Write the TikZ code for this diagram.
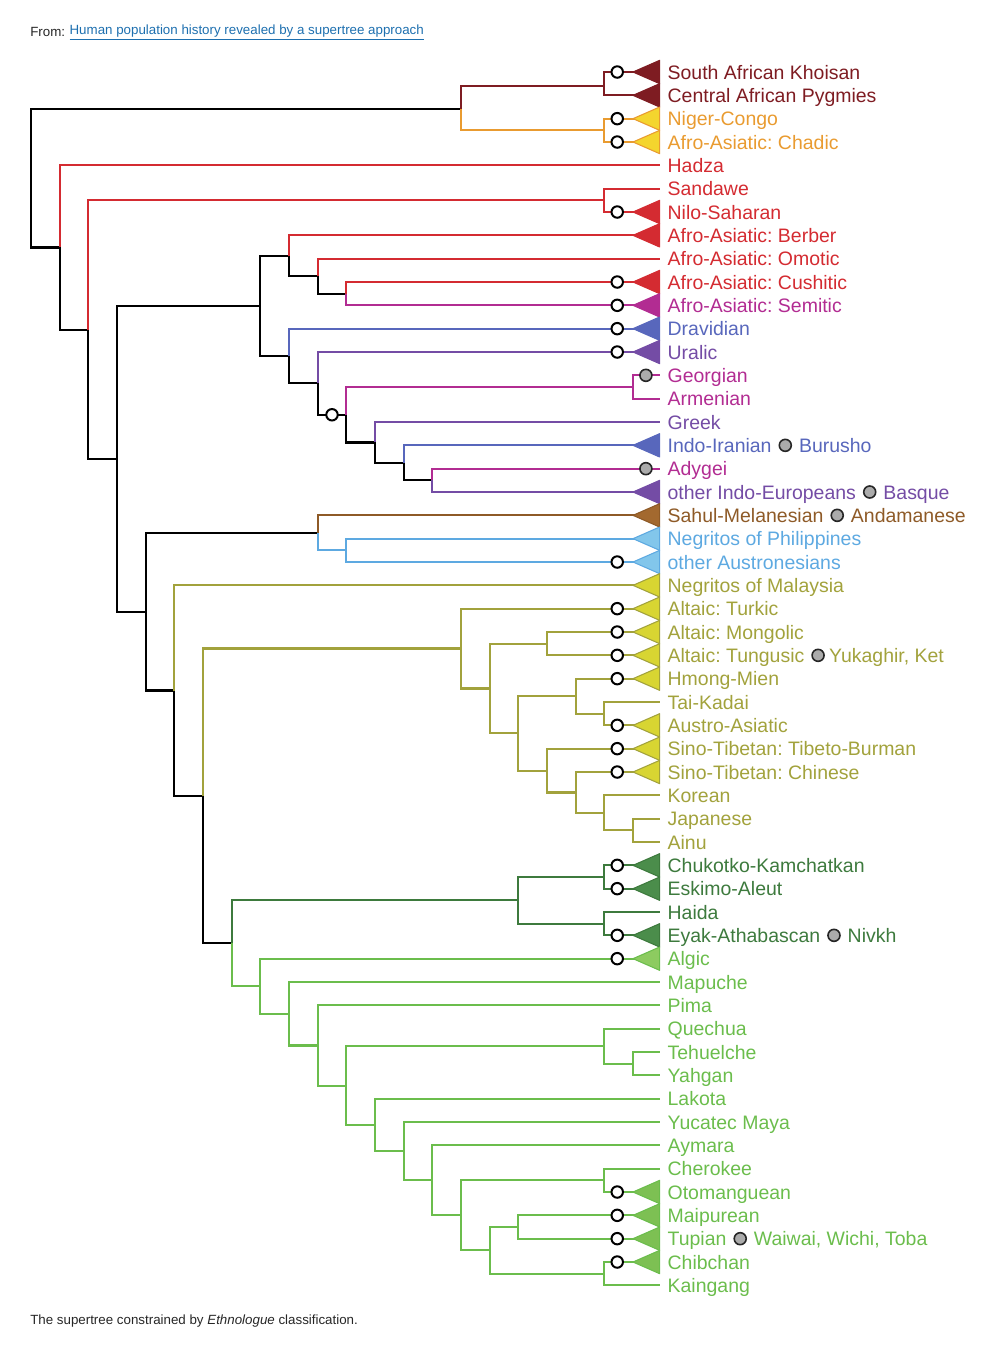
\documentclass[tikz,border=0pt]{standalone}
\usepackage{fontspec}
\setmainfont{Liberation Sans}
\usetikzlibrary{positioning}
\frenchspacing

\definecolor{cdarkred}{HTML}{7E1C22}
\definecolor{corange}{HTML}{E99B30}
\definecolor{cyellow}{HTML}{F4D52E}
\definecolor{cred}{HTML}{D42B31}
\definecolor{cmagenta}{HTML}{B22C92}
\definecolor{cblue}{HTML}{5867BC}
\definecolor{cpurple}{HTML}{744CA5}
\definecolor{cbrown}{HTML}{8E5A27}
\definecolor{cbrownfill}{HTML}{A3692F}
\definecolor{csky}{HTML}{5DA9E1}
\definecolor{cskyfill}{HTML}{82C6EB}
\definecolor{colive}{HTML}{A2A23C}
\definecolor{colivefill}{HTML}{D8D532}
\definecolor{cdkgreen}{HTML}{3D7A3D}
\definecolor{cdkgreenfill}{HTML}{4B8D4B}
\definecolor{cltgreen}{HTML}{6BBD4C}
\definecolor{cltgreenfill}{HTML}{7DC053}
\definecolor{calgicfill}{HTML}{8DCB60}
\definecolor{clink}{HTML}{1D6FAF}

\begin{document}
\begin{tikzpicture}[%
      x=21.5pt, y=-17.5pt,
      br/.style={line width=1.65pt},
      leaf/.style={anchor=west, inner sep=0pt, text height=10.5pt, text depth=0pt,
        font=\fontsize{14.6}{17}\selectfont},
      opendot/.style={circle, draw=black, line width=1.5pt, fill=white,
        inner sep=0pt, minimum size=8.6pt},
      greydot/.style={circle, draw=black!85, line width=1.2pt, fill=black!33,
        inner sep=0pt, minimum size=9pt},
      clade/.style={line width=0.8pt, line join=round},
      note/.style={anchor=west, inner sep=0pt, font=\fontsize{10}{12}\selectfont},
      ]
      \useasboundingbox (-23.25pt,54pt) rectangle (717.75pt,-956.25pt);

      % leaf ends
      \foreach \i in {0,...,52}
        \coordinate (l\i) at (21.95,\i);

      % inner nodes (column, row)
      \coordinate (nR) at (0,4.51);
      \coordinate (nA) at (15,1.6);
      \coordinate (nK) at (20,0.6);
      \coordinate (nN) at (20,2.5);
      \coordinate (nB) at (1,7.52);
      \coordinate (nC) at (2,11.04);
      \coordinate (nS) at (20,5.5);
      \coordinate (nD) at (3,16.58);
      \coordinate (nE) at (8,10.02);
      \coordinate (nG) at (9,7.875);
      \coordinate (nG2) at (10,8.75);
      \coordinate (nG3) at (11,9.5);
      \coordinate (nH) at (9,12.17);
      \coordinate (nH2) at (10,13.34);
      \coordinate (nH3) at (11,14.69);
      \coordinate (nGA) at (21,13.5);
      \coordinate (nH4) at (12,15.875);
      \coordinate (nH5) at (13,16.75);
      \coordinate (nH6) at (14,17.5);
      \coordinate (nF) at (4,23.13);
      \coordinate (nI) at (10,19.75);
      \coordinate (nI2) at (11,20.5);
      \coordinate (nJ) at (5,26.51);
      \coordinate (nP) at (6,31.03);
      \coordinate (nL) at (15,24.71);
      \coordinate (nL2) at (16,26.42);
      \coordinate (nL3) at (18,24.5);
      \coordinate (nL4) at (17,28.34);
      \coordinate (nL5) at (19,26.75);
      \coordinate (nL6) at (20,27.5);
      \coordinate (nL8) at (18,29.94);
      \coordinate (nL9) at (19,30.875);
      \coordinate (nL10) at (20,31.75);
      \coordinate (nL11) at (21,32.5);
      \coordinate (nQ) at (7,37.34);
      \coordinate (nW) at (17,35.5);
      \coordinate (nW1) at (20,34.5);
      \coordinate (nW2) at (20,36.5);
      \coordinate (nV) at (8,39.18);
      \coordinate (nV2) at (9,40.36);
      \coordinate (nV3) at (10,41.72);
      \coordinate (nV4) at (11,43.44);
      \coordinate (nV5) at (20,41.75);
      \coordinate (nV6) at (21,42.5);
      \coordinate (nV7) at (12,45.125);
      \coordinate (nV8) at (13,46.25);
      \coordinate (nV9) at (14,47.5);
      \coordinate (nV10) at (15,49);
      \coordinate (nV11) at (20,47.5);
      \coordinate (nV12) at (16,50.5);
      \coordinate (nV13) at (17,49.5);
      \coordinate (nV14) at (20,51.5);

      % black backbone
      \foreach \p/\c in {R/A,R/B,B/C,C/D,D/E,D/F,E/G,E/H,G/G2,G2/G3,H/H2,H2/H3,
                         H3/H4,H4/H5,H5/H6,F/I,F/J,J/P,P/Q}
        \draw [color=black, br] (n\p) |- (n\c);

      \draw [color=cdarkred, br] (nA) |- (nK);
      \draw [color=cdarkred, br] (nK) |- (l0);
      \draw [color=cdarkred, br] (nK) |- (l1);
      \draw [color=corange, br] (nA) |- (nN);
      \draw [color=corange, br] (nN) |- (l2);
      \draw [color=corange, br] (nN) |- (l3);

      \draw [color=cred, br] (nB) |- (l4);
      \draw [color=cred, br] (nC) |- (nS);
      \draw [color=cred, br] (nS) |- (l5);
      \draw [color=cred, br] (nS) |- (l6);
      \draw [color=cred, br] (nG) |- (l7);
      \draw [color=cred, br] (nG2) |- (l8);
      \draw [color=cred, br] (nG3) |- (l9);
      \draw [color=cmagenta, br] (nG3) |- (l10);

      \draw [color=cblue, br] (nH) |- (l11);
      \draw [color=cpurple, br] (nH2) |- (l12);
      \draw [color=cmagenta, br] (nH3) |- (nGA);
      \draw [color=cmagenta, br] (nGA) |- (l13);
      \draw [color=cmagenta, br] (nGA) |- (l14);
      \draw [color=cpurple, br] (nH4) |- (l15);
      \draw [color=cblue, br] (nH5) |- (l16);
      \draw [color=cmagenta, br] (nH6) |- (l17);
      \draw [color=cpurple, br] (nH6) |- (l18);

      \draw [color=cbrown, br] (nI) |- (l19);
      \draw [color=csky, br] (nI) |- (nI2);
      \draw [color=csky, br] (nI2) |- (l20);
      \draw [color=csky, br] (nI2) |- (l21);

      % olive clade
      \foreach \p/\c in {J/l22,P/nL,L/l23,L/nL2,L2/nL3,L3/l24,L3/l25,L2/nL4,
                         L4/nL5,L5/l26,L5/nL6,L6/l27,L6/l28,L4/nL8,L8/l29,
                         L8/nL9,L9/l30,L9/nL10,L10/l31,L10/nL11,L11/l32,L11/l33}
        \draw [color=colive, br] (n\p) |- (\c);

      % dark green clade
      \foreach \p/\c in {Q/nW,W/nW1,W1/l34,W1/l35,W/nW2,W2/l36,W2/l37}
        \draw [color=cdkgreen, br] (n\p) |- (\c);

      % light green clade
      \foreach \p/\c in {Q/nV,V/l38,V/nV2,V2/l39,V2/nV3,V3/l40,V3/nV4,V4/nV5,
                         V5/l41,V5/nV6,V6/l42,V6/l43,V4/nV7,V7/l44,V7/nV8,
                         V8/l45,V8/nV9,V9/l46,V9/nV10,V10/nV11,V11/l47,V11/l48,
                         V10/nV12,V12/nV13,V13/l49,V13/l50,V12/nV14,V14/l51,V14/l52}
        \draw [color=cltgreen, br] (n\p) |- (\c);

      % collapsed clades
      \foreach \i/\f/\d in {0/cdarkred/cdarkred,1/cdarkred/cdarkred,
                            2/cyellow/corange,3/cyellow/corange,
                            6/cred/cred,7/cred/cred,9/cred/cred,
                            10/cmagenta/cmagenta,11/cblue/cblue,12/cpurple/cpurple,
                            16/cblue/cblue,18/cpurple/cpurple,
                            19/cbrownfill/cbrown,20/cskyfill/csky,21/cskyfill/csky,
                            22/colivefill/colive,23/colivefill/colive,24/colivefill/colive,
                            25/colivefill/colive,26/colivefill/colive,28/colivefill/colive,
                            29/colivefill/colive,30/colivefill/colive,
                            34/cdkgreenfill/cdkgreen,35/cdkgreenfill/cdkgreen,
                            37/cdkgreenfill/cdkgreen,38/calgicfill/cltgreen,
                            48/cltgreenfill/cltgreen,49/cltgreenfill/cltgreen,
                            50/cltgreenfill/cltgreen,51/cltgreenfill/cltgreen}
        \filldraw [fill=\f, draw=\d, clade] (21,\i) -- (21.93,{\i-0.5}) -- (21.93,{\i+0.5}) -- cycle;

      \foreach \i in {0,2,3,6,9,10,11,12,21,23,24,25,26,28,29,30,34,35,37,38,48,49,50,51}
        \node [opendot] (o\i) at (20.45,\i) {};
      \node [opendot] (oH3) at (10.5,14.69) {};
      \node [greydot] (g13) at (21.45,13) {};
      \node [greydot] (g17) at (21.45,17) {};

      % labels
      \foreach \i/\t/\c in {0/South African Khoisan/cdarkred,1/Central African Pygmies/cdarkred,
                            2/Niger-Congo/corange,3/Afro-Asiatic: Chadic/corange,
                            4/Hadza/cred,5/Sandawe/cred,6/Nilo-Saharan/cred,
                            7/Afro-Asiatic: Berber/cred,8/Afro-Asiatic: Omotic/cred,
                            9/Afro-Asiatic: Cushitic/cred,10/Afro-Asiatic: Semitic/cmagenta,
                            11/Dravidian/cblue,12/Uralic/cpurple,13/Georgian/cmagenta,
                            14/Armenian/cmagenta,15/Greek/cpurple,16/Indo-Iranian/cblue,
                            17/Adygei/cmagenta,18/other Indo-Europeans/cpurple,
                            19/Sahul-Melanesian/cbrown,20/Negritos of Philippines/csky,
                            21/other Austronesians/csky,22/Negritos of Malaysia/colive,
                            23/Altaic: Turkic/colive,24/Altaic: Mongolic/colive,
                            25/Altaic: Tungusic/colive,26/Hmong-Mien/colive,
                            27/Tai-Kadai/colive,28/Austro-Asiatic/colive,
                            29/Sino-Tibetan: Tibeto-Burman/colive,30/Sino-Tibetan: Chinese/colive,
                            31/Korean/colive,32/Japanese/colive,33/Ainu/colive,
                            34/Chukotko-Kamchatkan/cdkgreen,35/Eskimo-Aleut/cdkgreen,
                            36/Haida/cdkgreen,37/Eyak-Athabascan/cdkgreen,
                            38/Algic/cltgreen,39/Mapuche/cltgreen,40/Pima/cltgreen,
                            41/Quechua/cltgreen,42/Tehuelche/cltgreen,43/Yahgan/cltgreen,
                            44/Lakota/cltgreen,45/Yucatec Maya/cltgreen,46/Aymara/cltgreen,
                            47/Cherokee/cltgreen,48/Otomanguean/cltgreen,49/Maipurean/cltgreen,
                            50/Tupian/cltgreen,51/Chibchan/cltgreen,52/Kaingang/cltgreen}
        \node [leaf, text=\c] (t\i) at (22.2,\i) {\t};

      % extra groups
      \node [greydot, right=5pt of t16] (x16) {};
      \node [leaf, text=cblue, right=5pt of x16] (y16) {Burusho};
      \node [greydot, right=5pt of t18] (x18) {};
      \node [leaf, text=cpurple, right=5pt of x18] (y18) {Basque};
      \node [greydot, right=5pt of t19] (x19) {};
      \node [leaf, text=cbrown, right=5pt of x19] (y19) {Andamanese};
      \node [greydot, right=5pt of t25] (x25) {};
      \node [leaf, text=colive, right=3pt of x25] (y25) {Yukaghir, Ket};
      \node [greydot, right=5pt of t37] (x37) {};
      \node [leaf, text=cdkgreen, right=5pt of x37] (y37) {Nivkh};
      \node [greydot, right=5pt of t50] (x50) {};
      \node [leaf, text=cltgreen, right=5pt of x50] (y50) {Waiwai, Wichi, Toba};

      \node [note, text=black!85] (from) at (-0.035,-1.71) {From:};
      \node [note, text=clink, right=3pt of from] (link)
        {\underline{Human population history revealed by a supertree approach}};
      \node [note, text=black!85] (caption) at (-0.035,53.54)
        {The supertree constrained by \textit{Ethnologue} classification.};
\end{tikzpicture}
\end{document}
